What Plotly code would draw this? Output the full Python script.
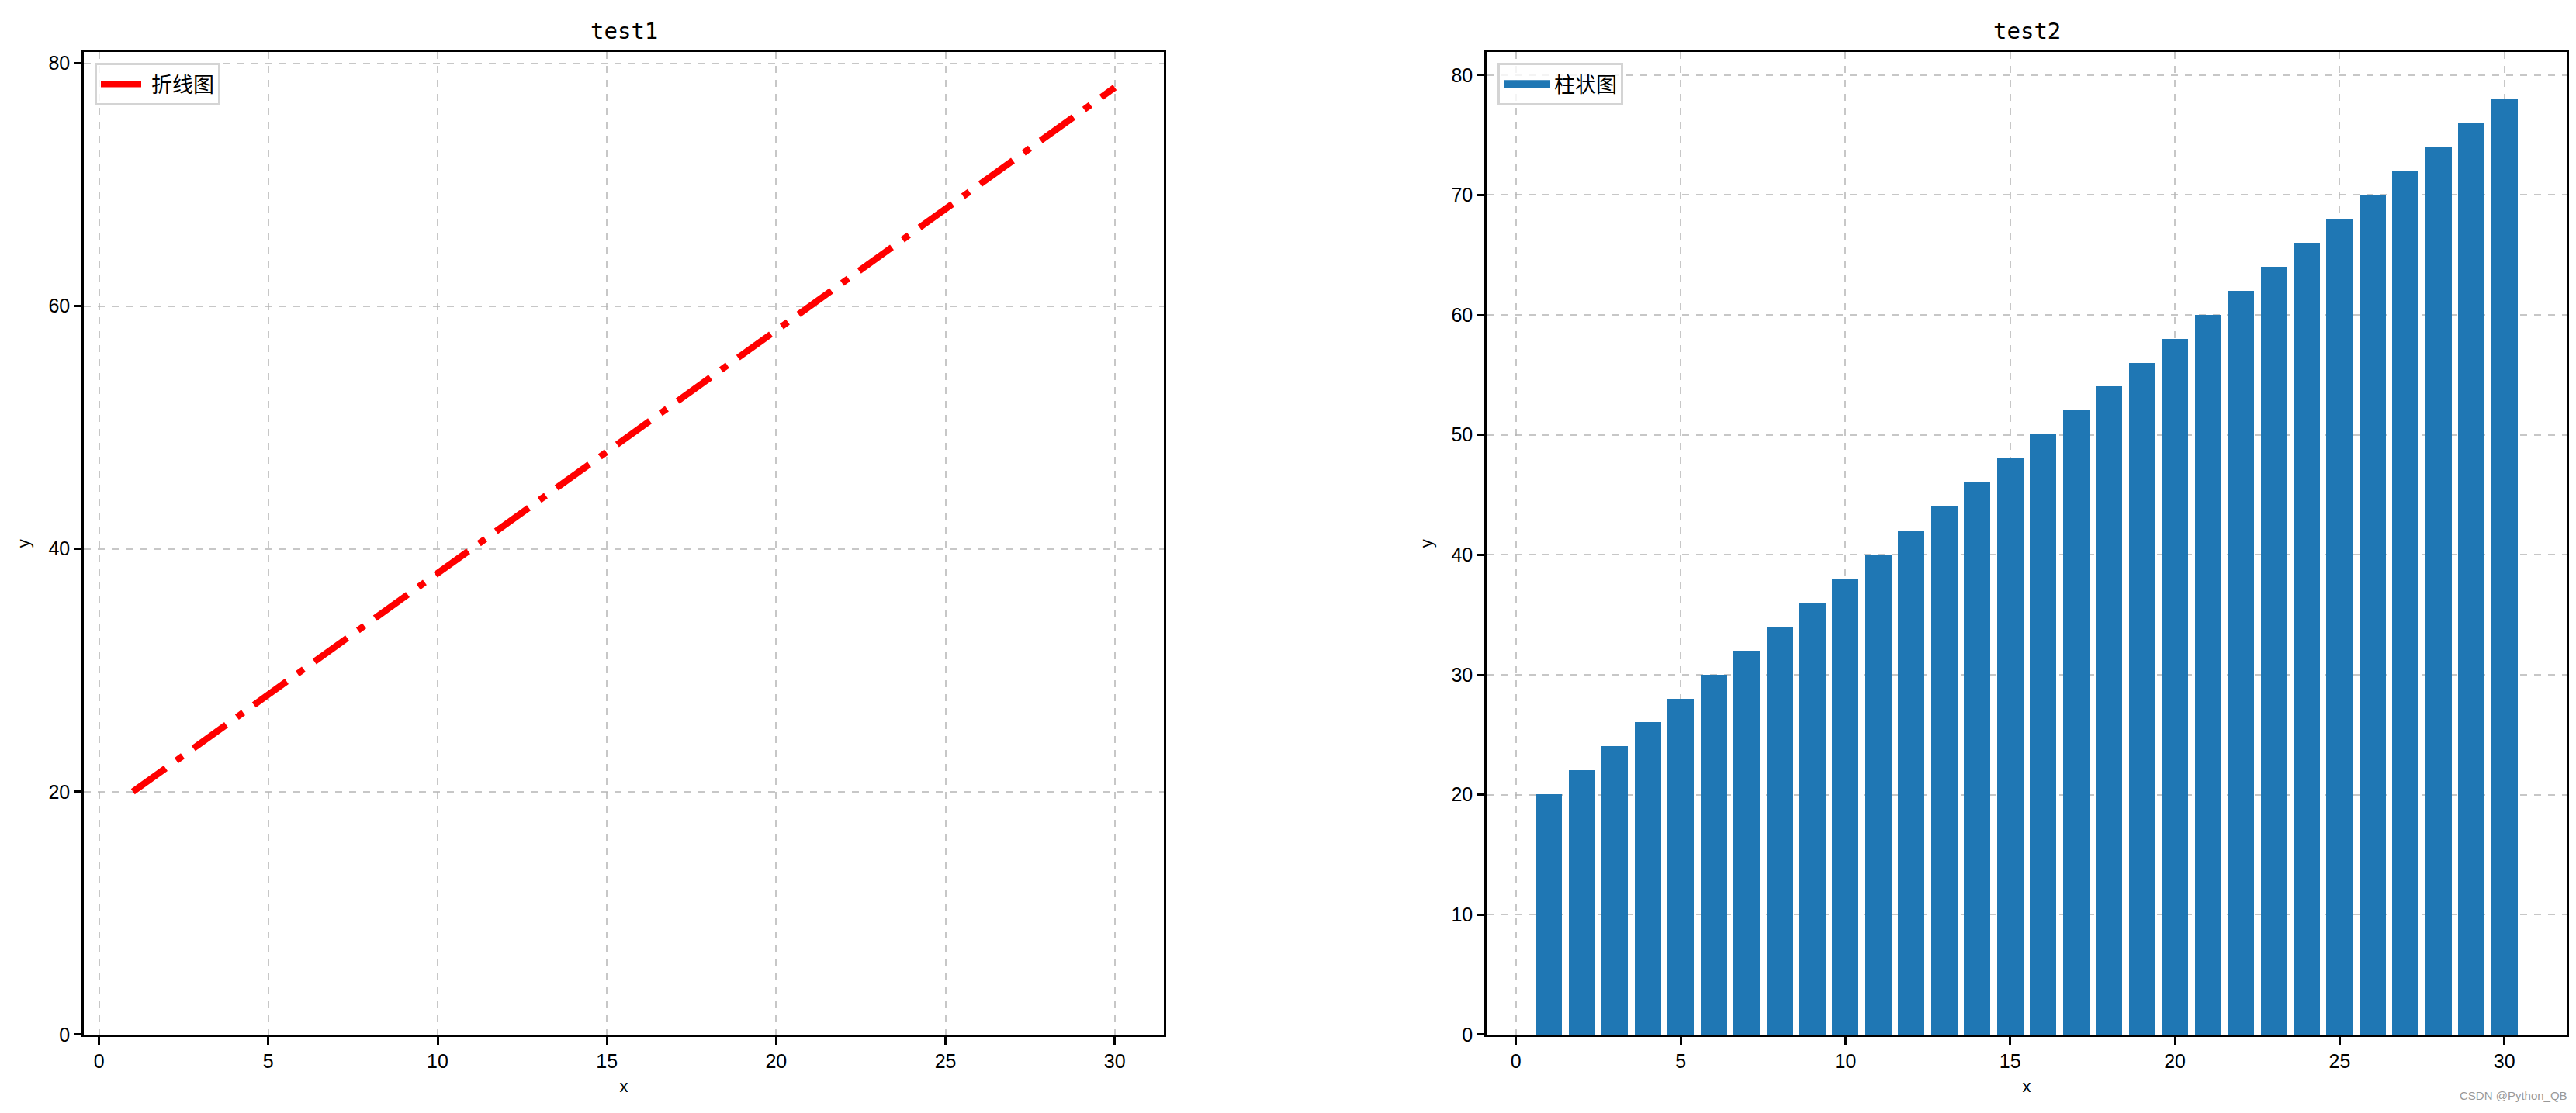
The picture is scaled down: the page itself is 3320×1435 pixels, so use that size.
import plotly.graph_objects as go

x_vals = list(range(1, 31))
y_line = [20, 22, 24, 26, 28, 30, 32, 34, 36, 38, 40, 42, 44, 46, 48, 50,
          52, 54, 56, 58, 60, 62, 64, 66, 68, 70, 72, 74, 76, 78]
y_bar = [20, 22, 24, 26, 28, 30, 32, 34, 36, 38, 40, 42, 44, 46, 48, 50,
         52, 54, 56, 58, 60, 62, 64, 66, 68, 70, 72, 74, 76, 78]
titles = ["test1", "test2"]
legend_names = ["折线图", "柱状图"]

W, H = 3320, 1435
FONT = "Liberation Sans"
CJK = "Noto Sans CJK SC"
MONO = "DejaVu Sans Mono"
BLUE = "#1f77b4"

fig = go.Figure()
fig.add_trace(go.Scatter(
    x=x_vals, y=y_line, mode="lines", name=legend_names[0],
    line=dict(color="red", width=8.5, dash="52px,17px,10px,17px"),
    xaxis="x", yaxis="y", legend="legend", showlegend=True))
fig.add_trace(go.Bar(
    x=x_vals, y=y_bar, name=legend_names[1], width=0.8,
    marker=dict(color=BLUE, line=dict(width=0)),
    xaxis="x2", yaxis="y2", showlegend=False))
# legend key for the bars drawn as a wide patch (like matplotlib's rectangle)
fig.add_trace(go.Scatter(
    x=[None], y=[None], mode="lines", name=legend_names[1],
    line=dict(color=BLUE, width=19),
    xaxis="x2", yaxis="y2", legend="legend2", showlegend=True))

ax_common = dict(
    showline=True, linecolor="black", linewidth=2.5, mirror=True,
    ticks="outside", ticklen=10, tickwidth=2.5, tickcolor="black",
    showgrid=True, gridcolor="rgba(180,180,180,0.75)", gridwidth=2, griddash="dash",
    zeroline=False, tickfont=dict(family=FONT, size=25, color="black"),
    title_font=dict(family=FONT, size=22, color="black"),
)
ydom = [1 - 1339 / H, 1 - 60 / H]
leg_common = dict(xanchor="left", yanchor="top",
                  bgcolor="rgba(255,255,255,0.8)", bordercolor="#d4d4d4", borderwidth=3,
                  font=dict(family=CJK, size=27, color="black"), itemwidth=60,
                  tracegroupgap=0)
fig.update_layout(
    width=W, height=H, margin=dict(l=0, r=0, t=0, b=0),
    paper_bgcolor="white", plot_bgcolor="white",
    showlegend=True, bargap=0,
    xaxis=dict(domain=[100 / W, 1492 / W], range=[-0.45, 31.45], tickvals=[0, 5, 10, 15, 20, 25, 30],
               title=dict(text="x", standoff=12), anchor="y", **ax_common),
    yaxis=dict(domain=ydom, range=[0, 80.9], tickvals=[0, 20, 40, 60, 80],
               title=dict(text="y", standoff=18), anchor="x", **ax_common),
    xaxis2=dict(domain=[1908 / W, 3300 / W], range=[-0.89, 31.89], tickvals=[0, 5, 10, 15, 20, 25, 30],
                title=dict(text="x", standoff=12), anchor="y2", **ax_common),
    yaxis2=dict(domain=ydom, range=[0, 81.9], tickvals=[0, 10, 20, 30, 40, 50, 60, 70, 80],
                title=dict(text="y", standoff=18), anchor="x2", **ax_common),
    legend=dict(x=114 / W, y=1 - 74 / H, **leg_common),
    legend2=dict(x=1922 / W, y=1 - 74 / H, **leg_common),
    annotations=[
        dict(text=titles[0], x=(100 + 1492) / 2 / W, y=1 - 32 / H, xref="paper", yref="paper",
             showarrow=False, font=dict(family=MONO, size=29, color="black"),
             xanchor="center", yanchor="middle"),
        dict(text=titles[1], x=(1908 + 3300) / 2 / W, y=1 - 32 / H, xref="paper", yref="paper",
             showarrow=False, font=dict(family=MONO, size=29, color="black"),
             xanchor="center", yanchor="middle"),
        dict(text="CSDN @Python_QB", x=3303 / W, y=1 - 1418 / H, xref="paper", yref="paper",
             showarrow=False, font=dict(family=FONT, size=15, color="#999999"),
             xanchor="right", yanchor="middle"),
    ],
)

fig.write_html("out.html")
